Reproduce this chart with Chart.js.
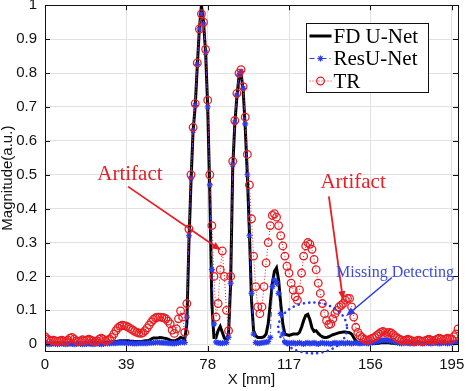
<!DOCTYPE html>
<html>
<head>
<meta charset="utf-8">
<script src="https://cdn.jsdelivr.net/npm/chart.js@4.4.1/dist/chart.umd.min.js"></script>
<style>
  html, body { margin: 0; padding: 0; background: #fff; }
</style>
</head>
<body>
<canvas id="chart" width="474" height="391"></canvas>
<script>
//------data (one sample per mm)
const stepMm = 1;
const xTicks = [0, 39, 78, 117, 156, 195];
const yTicks = [0, 0.1, 0.2, 0.3, 0.4, 0.5, 0.6, 0.7, 0.8, 0.9, 1];

const fdUnet = [
  0.003, 0.003, 0.002, 0.002, 0.003, 0.003, 0.002, 0.002, 0.003, 0.003,
  0.003, 0.002, 0.002, 0.003, 0.003, 0.002, 0.002, 0.003, 0.003, 0.003,
  0.003, 0.003, 0.004, 0.004, 0.004, 0.004, 0.005, 0.005, 0.005, 0.005,
  0.006, 0.006, 0.007, 0.008, 0.008, 0.009, 0.010, 0.010, 0.010, 0.010,
  0.010, 0.009, 0.009, 0.008, 0.008, 0.008, 0.008, 0.009, 0.010, 0.010,
  0.012, 0.016, 0.018, 0.018, 0.018, 0.020, 0.019, 0.018, 0.017, 0.015,
  0.012, 0.010, 0.010, 0.012, 0.015, 0.020, 0.018, 0.015, 0.060, 0.300,
  0.480, 0.630, 0.700, 0.820, 0.930, 1.000, 0.950, 0.860, 0.700, 0.450,
  0.120, 0.020, 0.020, 0.040, 0.052, 0.035, 0.018, 0.015, 0.030, 0.180,
  0.520, 0.650, 0.730, 0.790, 0.800, 0.750, 0.640, 0.500, 0.330, 0.130,
  0.040, 0.025, 0.020, 0.020, 0.020, 0.022, 0.030, 0.060, 0.120, 0.180,
  0.215, 0.225, 0.190, 0.120, 0.060, 0.030, 0.028, 0.026, 0.028, 0.030,
  0.030, 0.030, 0.035, 0.050, 0.070, 0.085, 0.088, 0.072, 0.048, 0.038,
  0.040, 0.032, 0.026, 0.022, 0.020, 0.020, 0.022, 0.025, 0.028, 0.030,
  0.032, 0.034, 0.035, 0.036, 0.036, 0.035, 0.034, 0.030, 0.020, 0.010,
  0.005, 0.003, 0.002, 0.002, 0.002, 0.002, 0.002, 0.002, 0.002, 0.002,
  0.003, 0.004, 0.004, 0.004, 0.004, 0.004, 0.003, 0.003, 0.002, 0.002,
  0.002, 0.002, 0.003, 0.002, 0.002, 0.003, 0.002, 0.002, 0.003, 0.002,
  0.002, 0.003, 0.002, 0.002, 0.003, 0.002, 0.002, 0.003, 0.002, 0.002,
  0.003, 0.002, 0.002, 0.003, 0.002, 0.002, 0.003, 0.003, 0.004
];

const resUnet = [
  0.002, 0.001, 0.000, 0.001, 0.002, 0.001, 0.000, 0.001, 0.002, 0.001,
  0.000, 0.001, 0.002, 0.001, 0.000, 0.001, 0.002, 0.001, 0.000, 0.001,
  0.001, 0.002, 0.001, 0.000, 0.001, 0.002, 0.001, 0.000, 0.001, 0.002,
  0.002, 0.002, 0.003, 0.003, 0.003, 0.004, 0.004, 0.004, 0.004, 0.003,
  0.003, 0.003, 0.002, 0.002, 0.002, 0.003, 0.003, 0.003, 0.003, 0.003,
  0.004, 0.004, 0.004, 0.005, 0.005, 0.005, 0.004, 0.004, 0.004, 0.003,
  0.003, 0.002, 0.002, 0.003, 0.004, 0.006, 0.006, 0.005, 0.080, 0.320,
  0.490, 0.630, 0.705, 0.825, 0.930, 0.975, 0.945, 0.860, 0.700, 0.470,
  0.220, 0.060, 0.006, 0.004, 0.003, 0.003, 0.004, 0.005, 0.020, 0.180,
  0.530, 0.655, 0.735, 0.795, 0.805, 0.755, 0.650, 0.500, 0.320, 0.150,
  0.030, 0.005, 0.003, 0.003, 0.004, 0.005, 0.006, 0.008, 0.020, 0.170,
  0.190, 0.180, 0.150, 0.090, 0.030, 0.006, 0.004, 0.003, 0.003, 0.004,
  0.002, 0.003, 0.004, 0.002, 0.001, 0.003, 0.004, 0.002, 0.003, 0.004,
  0.002, 0.001, 0.003, 0.004, 0.002, 0.003, 0.002, 0.001, 0.003, 0.004,
  0.003, 0.002, 0.004, 0.003, 0.002, 0.004, 0.003, 0.002, 0.003, 0.004,
  0.003, 0.002, 0.003, 0.004, 0.003, 0.002, 0.004, 0.005, 0.006, 0.008,
  0.010, 0.011, 0.012, 0.012, 0.012, 0.011, 0.010, 0.008, 0.006, 0.004,
  0.003, 0.002, 0.003, 0.004, 0.003, 0.002, 0.003, 0.002, 0.003, 0.004,
  0.003, 0.002, 0.003, 0.004, 0.003, 0.002, 0.003, 0.004, 0.003, 0.002,
  0.003, 0.004, 0.003, 0.002, 0.003, 0.004, 0.005, 0.006, 0.008
];

const tr = [
  0.022, 0.016, 0.012, 0.010, 0.012, 0.010, 0.008, 0.010, 0.012, 0.010,
  0.008, 0.012, 0.018, 0.020, 0.015, 0.010, 0.008, 0.010, 0.013, 0.010,
  0.012, 0.015, 0.012, 0.010, 0.008, 0.010, 0.015, 0.018, 0.014, 0.010,
  0.012, 0.015, 0.020, 0.030, 0.040, 0.048, 0.053, 0.056, 0.055, 0.053,
  0.050, 0.046, 0.042, 0.038, 0.035, 0.033, 0.032, 0.034, 0.040, 0.048,
  0.057, 0.066, 0.073, 0.078, 0.080, 0.080, 0.079, 0.078, 0.075, 0.068,
  0.060, 0.042, 0.032, 0.045, 0.075, 0.098, 0.080, 0.035, 0.120, 0.340,
  0.500, 0.640, 0.710, 0.830, 0.930, 0.975, 0.950, 0.870, 0.720, 0.500,
  0.350, 0.200, 0.080, 0.120, 0.220, 0.275, 0.200, 0.100, 0.040, 0.200,
  0.540, 0.660, 0.740, 0.800, 0.810, 0.760, 0.670, 0.560, 0.470, 0.370,
  0.260, 0.170, 0.110, 0.090, 0.110, 0.170, 0.240, 0.300, 0.350, 0.380,
  0.385, 0.375, 0.350, 0.320, 0.290, 0.260, 0.230, 0.210, 0.180, 0.160,
  0.140, 0.130, 0.160, 0.210, 0.260, 0.290, 0.300, 0.295, 0.280, 0.250,
  0.220, 0.180, 0.150, 0.120, 0.090, 0.070, 0.058, 0.060, 0.075, 0.090,
  0.100, 0.110, 0.115, 0.120, 0.130, 0.135, 0.135, 0.110, 0.080, 0.050,
  0.035, 0.025, 0.020, 0.015, 0.012, 0.012, 0.015, 0.018, 0.020, 0.025,
  0.030, 0.035, 0.038, 0.035, 0.032, 0.035, 0.033, 0.028, 0.022, 0.018,
  0.015, 0.012, 0.010, 0.012, 0.015, 0.012, 0.010, 0.008, 0.010, 0.012,
  0.010, 0.008, 0.010, 0.012, 0.015, 0.012, 0.010, 0.012, 0.015, 0.018,
  0.015, 0.012, 0.015, 0.018, 0.015, 0.015, 0.022, 0.030, 0.045
];

// annotations, in data units (x mm, y magnitude)
const artifactLabels = [
  { text: 'Artifact', x: 40.7, y: 0.50, from: [39.8, 0.465], to: [84.4, 0.277] },
  { text: 'Artifact', x: 147.7, y: 0.477, from: [136.1, 0.436], to: [142.9, 0.13] }
];
const missingLabel = { text: 'Missing Detecting', x: 167.8, y: 0.212, from: [166.3, 0.197], to: [144.3, 0.083] };
const missingEllipse = { cx: 128.3, cy: 0.048, rx: 16.5, ry: 0.075 };

const RED = 'rgb(232,30,36)';
const BLUE = 'rgb(40,60,235)';

const toPoints = arr => arr.map((v, i) => ({ x: i * stepMm, y: v }));

//------plugins
function arrow(ctx, x1, y1, x2, y2, color, lw) {
    const a = Math.atan2(y2 - y1, x2 - x1);
    const len = 9, half = 3.5;
    ctx.save();
    ctx.strokeStyle = color;
    ctx.fillStyle = color;
    ctx.lineWidth = lw;
    ctx.beginPath();
    ctx.moveTo(x1, y1);
    ctx.lineTo(x2 - Math.cos(a) * len * 0.8, y2 - Math.sin(a) * len * 0.8);
    ctx.stroke();
    ctx.beginPath();
    ctx.moveTo(x2, y2);
    ctx.lineTo(x2 - Math.cos(a) * len - Math.sin(a) * half, y2 - Math.sin(a) * len + Math.cos(a) * half);
    ctx.lineTo(x2 - Math.cos(a) * len + Math.sin(a) * half, y2 - Math.sin(a) * len - Math.cos(a) * half);
    ctx.closePath();
    ctx.fill();
    ctx.restore();
}

function marker(ctx, style, x, y, r, color, lw) {
    ctx.save();
    ctx.setLineDash([]);
    ctx.strokeStyle = color;
    ctx.lineWidth = lw || 1;
    ctx.beginPath();
    if (style === 'circle') {
        ctx.arc(x, y, r, 0, Math.PI * 2);
    } else if (style === 'star') {
        for (let k = 0; k < 4; k++) {
            const a = k * Math.PI / 4;
            ctx.moveTo(x - Math.cos(a) * r, y - Math.sin(a) * r);
            ctx.lineTo(x + Math.cos(a) * r, y + Math.sin(a) * r);
        }
    }
    ctx.stroke();
    ctx.restore();
}

const framePlugin = {
    id: 'frame',
    afterDatasetsDraw(chart) {
        const { ctx, chartArea: a, scales: { x, y } } = chart;
        ctx.save();
        ctx.strokeStyle = '#111';
        ctx.lineWidth = 1;
        ctx.beginPath();
        xTicks.forEach(v => {
            const px = Math.round(x.getPixelForValue(v)) + 0.5;
            ctx.moveTo(px, a.bottom); ctx.lineTo(px, a.bottom - 5);
            ctx.moveTo(px, a.top); ctx.lineTo(px, a.top + 5);
        });
        yTicks.forEach(v => {
            const py = Math.round(y.getPixelForValue(v)) + 0.5;
            ctx.moveTo(a.left, py); ctx.lineTo(a.left + 5, py);
            ctx.moveTo(a.right, py); ctx.lineTo(a.right - 5, py);
        });
        ctx.stroke();
        ctx.strokeRect(Math.round(a.left) + 0.5, Math.round(a.top) + 0.5,
            Math.round(a.right - a.left), Math.round(a.bottom - a.top));
        ctx.restore();

        // annotations
        artifactLabels.forEach(n => {
            ctx.save();
            ctx.fillStyle = RED;
            ctx.font = '21px "Liberation Serif"';
            ctx.textAlign = 'center';
            ctx.textBaseline = 'middle';
            ctx.fillText(n.text, x.getPixelForValue(n.x), y.getPixelForValue(n.y));
            ctx.restore();
            arrow(ctx, x.getPixelForValue(n.from[0]), y.getPixelForValue(n.from[1]),
                x.getPixelForValue(n.to[0]), y.getPixelForValue(n.to[1]), RED, 1.8);
        });

        ctx.save();
        ctx.fillStyle = 'rgb(60,75,215)';
        ctx.font = '16px "Liberation Serif"';
        ctx.textAlign = 'center';
        ctx.textBaseline = 'middle';
        ctx.fillText(missingLabel.text, x.getPixelForValue(missingLabel.x), y.getPixelForValue(missingLabel.y));
        ctx.restore();
        arrow(ctx, x.getPixelForValue(missingLabel.from[0]), y.getPixelForValue(missingLabel.from[1]),
            x.getPixelForValue(missingLabel.to[0]), y.getPixelForValue(missingLabel.to[1]), BLUE, 1.5);

        const e = missingEllipse;
        const cx = x.getPixelForValue(e.cx), cy = y.getPixelForValue(e.cy);
        const rx = x.getPixelForValue(e.cx + e.rx) - cx;
        const ry = cy - y.getPixelForValue(e.cy + e.ry);
        ctx.save();
        ctx.strokeStyle = BLUE;
        ctx.lineWidth = 2.6;
        ctx.lineCap = 'round';
        ctx.setLineDash([0.1, 5.2]);
        ctx.beginPath();
        ctx.ellipse(cx, cy, rx, ry, 0, 0, Math.PI * 2);
        ctx.stroke();
        ctx.restore();

        // legend box
        const bx = 306.5, by = 23.5, bw = 122, bh = 69;
        ctx.save();
        ctx.fillStyle = '#fff';
        ctx.fillRect(bx, by, bw, bh);
        ctx.strokeStyle = '#111';
        ctx.lineWidth = 1;
        ctx.strokeRect(bx, by, bw, bh);
        chart.data.datasets.forEach((ds, i) => {
            const ry0 = by + 12.5 + i * 22.5;
            ctx.save();
            ctx.strokeStyle = ds.borderColor;
            ctx.lineWidth = ds.borderWidth;
            ctx.setLineDash(ds.borderDash || []);
            ctx.beginPath();
            ctx.moveTo(bx + 3, ry0);
            ctx.lineTo(bx + 25, ry0);
            ctx.stroke();
            ctx.restore();
            if (ds.pointRadius > 0) marker(ctx, ds.pointStyle, bx + 14, ry0, ds.pointRadius, ds.borderColor, ds.pointBorderWidth);
            ctx.fillStyle = '#000';
            ctx.font = '21px "Liberation Serif"';
            ctx.textBaseline = 'middle';
            ctx.fillText(ds.label, bx + 27, ry0 + 1);
        });
        ctx.restore();
    }
};

//------chart
const config = {
    type: 'line',
    data: {
        datasets: [{
            label: 'FD U-Net',
            data: toPoints(fdUnet),
            borderColor: '#000',
            borderWidth: 3,
            pointRadius: 0,
            order: 2
        }, {
            label: 'ResU-Net',
            data: toPoints(resUnet),
            borderColor: BLUE,
            borderWidth: 1,
            borderDash: [5, 3, 1, 3],
            pointStyle: 'star',
            pointRadius: 3,
            pointBorderWidth: 1.2,
            pointBorderColor: BLUE,
            order: 1
        }, {
            label: 'TR',
            data: toPoints(tr),
            borderColor: RED,
            borderWidth: 1,
            borderDash: [1, 2],
            pointStyle: 'circle',
            pointRadius: 3.8,
            pointBorderWidth: 1.3,
            pointBorderColor: RED,
            pointBackgroundColor: 'rgba(0,0,0,0)',
            order: 0
        }]
    },
    options: {
        responsive: false,
        animation: false,
        layout: { padding: { top: 4, right: 16, bottom: 0, left: 0 } },
        plugins: { legend: { display: false }, tooltip: { enabled: false } },
        scales: {
            x: {
                type: 'linear',
                min: 0,
                max: 198,
                afterBuildTicks: s => { s.ticks = xTicks.map(v => ({ value: v })); },
                afterFit: s => { s.height = 40; s.paddingLeft = 0; s.paddingRight = 0; },
                grid: { color: '#e2e2e2', drawTicks: false },
                border: { display: false },
                ticks: { autoSkip: false, maxRotation: 0, padding: 5, color: '#111', font: { family: '"Liberation Sans"', size: 15 } },
                title: { display: true, text: 'X [mm]', color: '#111', padding: { top: 0, bottom: 2 }, font: { family: '"Liberation Sans"', size: 15 } }
            },
            y: {
                min: -0.02,
                max: 1,
                afterBuildTicks: s => { s.ticks = yTicks.map(v => ({ value: v })); },
                afterFit: s => { s.width = 45; s.paddingTop = 0; s.paddingBottom = 0; },
                grid: { color: '#e2e2e2', drawTicks: false },
                border: { display: false },
                ticks: {
                    autoSkip: false, padding: 8, color: '#111',
                    font: { family: '"Liberation Sans"', size: 15 },
                    callback: v => String(+v.toFixed(1))
                },
                title: { display: true, text: 'Magnitude(a.u.)', color: '#111', padding: 0, font: { family: '"Liberation Sans"', size: 15, lineHeight: 1 } }
            }
        }
    },
    plugins: [framePlugin]
};

const myChart = new Chart(document.getElementById('chart'), config);
</script>
</body>
</html>
